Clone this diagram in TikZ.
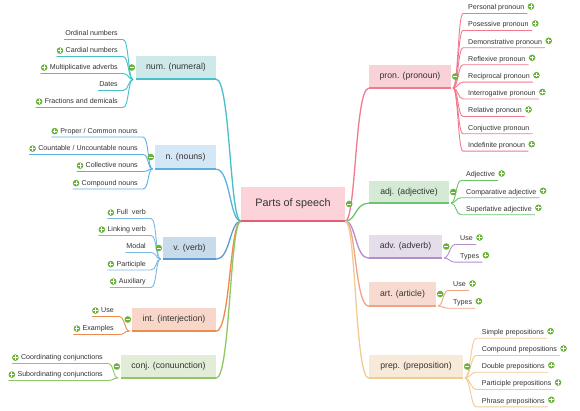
\documentclass[tikz,border=0pt]{standalone}
\usepackage{fontspec}
\setmainfont{Liberation Sans}
\usetikzlibrary{calc}
\definecolor{txt}{HTML}{333333}
\definecolor{icongreen}{HTML}{6AB23A}
\definecolor{cenfill}{HTML}{FBD3D9}\definecolor{cenline}{HTML}{EA5B73}
\definecolor{pronfill}{HTML}{F9D2D7}\definecolor{pronline}{HTML}{F27A8E}
\definecolor{numfill}{HTML}{CFE9EB}\definecolor{numline}{HTML}{45BFC8}
\definecolor{nfill}{HTML}{D4E7F7}\definecolor{nline}{HTML}{5BB0E3}
\definecolor{vfill}{HTML}{C8DBEB}\definecolor{vline}{HTML}{5B9AD0}
\definecolor{vkid}{HTML}{7DB8E0}
\definecolor{intfill}{HTML}{F8D7CA}\definecolor{intline}{HTML}{EE8A4C}
\definecolor{conjfill}{HTML}{E1EDD6}\definecolor{conjline}{HTML}{8FC765}
\definecolor{adjfill}{HTML}{D5EAD5}\definecolor{adjline}{HTML}{6DC46D}
\definecolor{advfill}{HTML}{E6DDEB}\definecolor{advline}{HTML}{B48ECB}
\definecolor{artfill}{HTML}{F8DBD0}\definecolor{artline}{HTML}{F2A385}
\definecolor{prepfill}{HTML}{F7EAD9}\definecolor{prepline}{HTML}{F2CB94}
\tikzset{
  box/.style={draw=none, inner sep=0pt, font=\fontsize{8.7}{10}\selectfont, text=txt},
  kid/.style={inner sep=0pt, font=\fontsize{7.1}{8}\selectfont, text=txt, text height=5.2pt, text depth=1.5pt},
  kidline/.style={line width=0.9pt},
  branch/.style={line width=1.3pt},
  botline/.style={line width=1.6pt},
  plusicon/.style={circle, fill=icongreen, minimum size=6.6pt, inner sep=0pt,
    path picture={\draw[white,line width=0.9pt]
      ($(path picture bounding box.center)+(-2.2,0)$) -- ($(path picture bounding box.center)+(2.2,0)$)
      ($(path picture bounding box.center)+(0,-2.2)$) -- ($(path picture bounding box.center)+(0,2.2)$);}},
  minusicon/.style={circle, fill=icongreen, minimum size=6.6pt, inner sep=0pt,
    path picture={\draw[white,line width=0.9pt]
      ($(path picture bounding box.center)+(-2.2,0)$) -- ($(path picture bounding box.center)+(2.2,0)$);}}
}
% left child: name, colour, junction, x of text right, y centre, text, plus
\newcommand\lkid[7]{%
  \node[kid,anchor=east] (#1) at (#4,#5) {#6};
  \ifnum#7=1
    \node[plusicon] (#1p) at ($(#1.west)+(-5.5,-0.4)$) {};
    \coordinate (#1l) at ($(#1p.center)+(-3.5,5.9)$);
  \else
    \coordinate (#1l) at ($(#1.west)+(-1,5.5)$);
  \fi
  \draw[kidline,draw=#2] (#1l) -- (\xe,{#5+5.5}) .. controls +(6,0) and +(-5,0) .. (#3);
}
% right child: name, colour, junction, x of text left, y centre, text, plus
\newcommand\rkid[7]{%
  \node[kid,anchor=west] (#1) at (#4,#5) {#6};
  \draw[kidline,draw=#2] (#3) .. controls +(5,0) and +(-5,0) .. (\xs,{#5+5.5}) -- ($(#1.east)+(3,5.5)$);
  \ifnum#7=1 \node[plusicon] (#1p) at ($(#1.east)+(6.5,-1.5)$) {};\fi
}
\begin{document}
\begin{tikzpicture}[x=1pt,y=-1pt]
\fill[white] (0,0) rectangle (580,411);
\useasboundingbox (0,0) rectangle (580,411);

% boxes
\node[box, fill=cenfill, minimum width=104pt, minimum height=34pt, font=\fontsize{10.8}{12}\selectfont] (center) at (293,204) {Parts of speech};
\node[box, fill=numfill, minimum width=80pt, minimum height=23pt] (num) at (176,67.5) {num. (numeral)};
\node[box, fill=nfill, minimum width=61pt, minimum height=24pt] (nn) at (185.5,157) {n. (nouns)};
\node[box, fill=vfill, minimum width=53pt, minimum height=22pt] (vv) at (189.5,248) {v. (verb)};
\node[box, fill=intfill, minimum width=84pt, minimum height=23pt] (int) at (174,319.5) {int. (interjection)};
\node[box, fill=conjfill, minimum width=95pt, minimum height=23pt] (conj) at (168.5,366.5) {conj. (conuunction)};
\node[box, fill=pronfill, minimum width=82pt, minimum height=23pt] (pron) at (410,76.5) {pron. (pronoun)};
\node[box, fill=adjfill, minimum width=80pt, minimum height=22pt] (adj) at (409,192) {adj. (adjective)};
\node[box, fill=advfill, minimum width=73pt, minimum height=23pt] (adv) at (405.5,246.5) {adv. (adverb)};
\node[box, fill=artfill, minimum width=67pt, minimum height=24pt] (art) at (402.5,294) {art. (article)};
\node[box, fill=prepfill, minimum width=94pt, minimum height=23pt] (prep) at (416,366.5) {prep. (preposition)};

% branches
\foreach \b/\c in {num/numline, nn/nline, vv/vline, int/intline, conj/conjline}
  \draw[branch, draw=\c] (\b.south east) .. controls +(14,0) and +(-11,0) .. (center.south west);
\foreach \b/\c in {pron/pronline, adj/adjline, adv/advline, art/artline, prep/prepline}
  \draw[branch, draw=\c] (center.south east) .. controls +(11,0) and +(-14,0) .. (\b.south west);

% bottom lines of boxes
\foreach \b/\c in {center/cenline, num/numline, nn/nline, vv/vline, int/intline, conj/conjline,
                   pron/pronline, adj/adjline, adv/advline, art/artline, prep/prepline}
  \draw[botline, draw=\c] (\b.south west) -- (\b.south east);

% junctions
\coordinate (numj) at (133,79.5);
\coordinate (nj) at (152.5,169);
\coordinate (vj) at (160.5,259);
\coordinate (ij) at (129.5,331);
\coordinate (cj) at (118,378);
\coordinate (pj) at (453,88);
\coordinate (aj) at (451,203);
\coordinate (dj) at (444,258);
\coordinate (tj) at (438,306);
\coordinate (ppj) at (465,378);

% numeral
\def\xe{123}
\lkid{k1}{numline}{numj}{118}{34}{Ordinal numbers}{0}
\lkid{k2}{numline}{numj}{118}{51}{Cardial numbers}{1}
\lkid{k3}{numline}{numj}{118}{68}{Multiplicative adverbs}{1}
\lkid{k4}{numline}{numj}{118}{85}{Dates}{0}
\lkid{k5}{numline}{numj}{118}{102}{Fractions and demicals}{1}
% nouns
\def\xe{143}
\lkid{k6}{nline}{nj}{138}{131.5}{Proper / Common nouns}{1}
\lkid{k7}{nline}{nj}{138}{149}{Countable / Uncountable nouns}{1}
\lkid{k8}{nline}{nj}{138}{166}{Collective nouns}{1}
\lkid{k9}{nline}{nj}{138}{183.5}{Compound nouns}{1}
% verb
\def\xe{151}
\lkid{k10}{vkid}{vj}{146}{213}{Full\ \ verb}{1}
\lkid{k11}{vkid}{vj}{146}{230}{Linking verb}{1}
\lkid{k12}{vkid}{vj}{146}{247}{Modal}{0}
\lkid{k13}{vkid}{vj}{146}{264.5}{Participle}{1}
\lkid{k14}{vkid}{vj}{146}{282}{Auxiliary}{1}
% interjection
\def\xe{119}
\lkid{k15}{intline}{ij}{114}{311}{Use}{1}
\lkid{k16}{intline}{ij}{114}{329}{Examples}{1}
% conjunction
\def\xe{108}
\lkid{k17}{conjline}{cj}{103}{358}{Coordinating conjunctions}{1}
\lkid{k18}{conjline}{cj}{103}{375}{Subordinating conjunctions}{1}

% pronoun
\def\xs{463}
\rkid{r1}{pronline}{pj}{468}{8}{Personal pronoun}{1}
\rkid{r2}{pronline}{pj}{468}{25}{Posessive pronoun}{1}
\rkid{r3}{pronline}{pj}{468}{42.3}{Demonstrative pronoun}{1}
\rkid{r4}{pronline}{pj}{468}{59.3}{Reflexive pronoun}{1}
\rkid{r5}{pronline}{pj}{468}{76.7}{Reciprocal pronoun}{1}
\rkid{r6}{pronline}{pj}{468}{93.5}{Interrogative pronoun}{1}
\rkid{r7}{pronline}{pj}{468}{111}{Relative pronoun}{1}
\rkid{r8}{pronline}{pj}{468}{128.3}{Conjuctive pronoun}{0}
\rkid{r9}{pronline}{pj}{468}{145.7}{Indefinite pronoun}{1}
% adjective
\def\xs{461}
\rkid{r10}{adjline}{aj}{466}{175}{Adjective}{1}
\rkid{r11}{adjline}{aj}{466}{192.3}{Comparative adjective}{1}
\rkid{r12}{adjline}{aj}{466}{209.3}{Superlative adjective}{1}
% adverb
\def\xs{455}
\rkid{r13}{advline}{dj}{460}{239}{Use}{1}
\rkid{r14}{advline}{dj}{460}{256.7}{Types}{1}
% article
\def\xs{448}
\rkid{r15}{artline}{tj}{453}{285}{Use}{1}
\rkid{r16}{artline}{tj}{453}{302.7}{Types}{1}
% preposition
\def\xs{476}
\rkid{r17}{prepline}{ppj}{481.7}{332.7}{Simple prepositions}{1}
\rkid{r18}{prepline}{ppj}{481.7}{350}{Compound prepositions}{1}
\rkid{r19}{prepline}{ppj}{481.7}{366.7}{Double prepositions}{1}
\rkid{r20}{prepline}{ppj}{481.7}{384}{Participle prepositions}{1}
\rkid{r21}{prepline}{ppj}{481.7}{401.3}{Phrase prepositions}{1}

% collapse icons
\foreach \b in {num, nn, vv, int, conj}
  \node[minusicon] (\b m) at ($(\b.west)+(-4,0)$) {};
\foreach \b in {center, pron, adj, adv, art, prep}
  \node[minusicon] (\b m) at ($(\b.east)+(4,0)$) {};
\end{tikzpicture}
\end{document}
